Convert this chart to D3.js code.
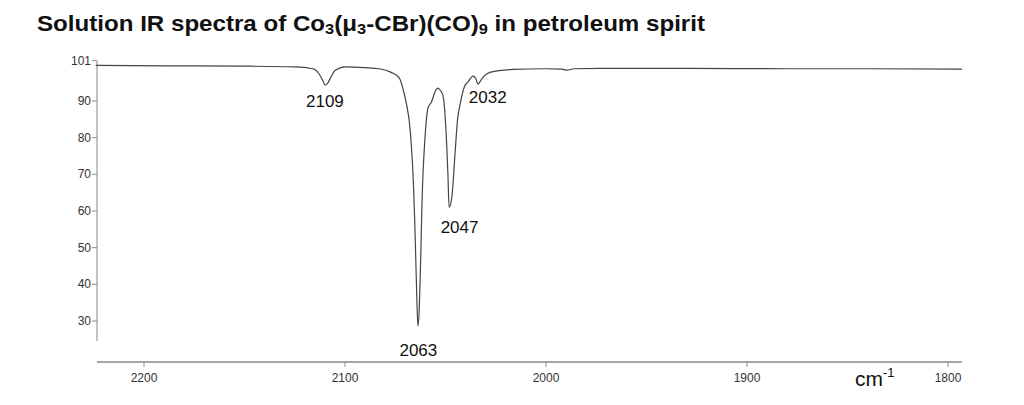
<!DOCTYPE html><html><head><script src="https://d3js.org/d3.v7.min.js"></script>
<style>body{margin:0;background:#fff}svg{font-family:Arial,"Liberation Sans",sans-serif}</style></head><body><svg width="1024" height="405"></svg>
<script>
const wavenumbers=[2224,2190,2150,2125,2116,2113,2111,2110,2109,2107,2105,2100,2090,2083,2077,2073,2071,2069,2068,2067,2066,2065.3,2064.7,2064.2,2063.7,2063,2062.3,2061.7,2060.2,2058.7,2057,2055.2,2053.8,2052.7,2051.3,2050.2,2049.4,2048.8,2048.2,2046.8,2045.3,2044,2042.8,2040.5,2038.8,2036.3,2035,2033.8,2032.6,2031.3,2027.9,2016.4,2000,1992,1989.6,1986,1973,1930,1880,1840,1793];
const transmittance=[99.7,99.6,99.5,99.3,98.8,97.5,95.5,94.4,94.6,96.5,98.3,99.3,99.1,98.8,97.8,96.3,93,88,84.3,78,68,57.1,45,35,28.6,34,48,62,80,88.1,89.7,92.5,93.5,93,91.6,86,78,70,61,64,75.3,85,88.9,94,95.2,96.8,96.2,94.6,95.5,96.5,97.8,98.6,98.8,98.7,98.4,98.8,98.9,98.9,98.8,98.8,98.7];
const xTicks=[2200,2100,2000,1900,1800];
const yTicks=[101,90,80,70,60,50,40,30];
const peakLabels=["2109","2063","2047","2032"];
const labelWn=[2110,2063.5,2043,2029];
const labelPct=[88.5,20.5,54,89.5];
const svg=d3.select("svg");
const x=d3.scaleLinear().domain([2100,2000]).range([345,546]);
const y=d3.scaleLinear().domain([90,60]).range([101,211]);
svg.append("text").attr("x",37).attr("y",31).attr("font-size",22).attr("font-weight","bold").attr("fill","#111")
 .attr("textLength",668).attr("lengthAdjust","spacingAndGlyphs")
 .html('Solution IR spectra of Co<tspan font-size="15" dy="3">3</tspan><tspan dy="-3">(μ</tspan><tspan font-size="15" dy="3">3</tspan><tspan dy="-3">-CBr)(CO)</tspan><tspan font-size="15" dy="3">9</tspan><tspan dy="-3"> in petroleum spirit</tspan>');
const g=svg.append("g").attr("fill","#333").attr("font-size",12);
svg.append("line").attr("x1",97).attr("x2",97).attr("y1",y(101)).attr("y2",341).attr("stroke","#888");
yTicks.forEach(t=>{svg.append("line").attr("x1",92).attr("x2",97).attr("y1",y(t)).attr("y2",y(t)).attr("stroke","#888");
 g.append("text").attr("x",91).attr("y",y(t)+4).attr("text-anchor","end").text(t);});
svg.append("line").attr("x1",97).attr("x2",962).attr("y1",362).attr("y2",362).attr("stroke","#888").attr("stroke-width",1.5);
xTicks.forEach(t=>{svg.append("line").attr("x1",x(t)).attr("x2",x(t)).attr("y1",362).attr("y2",367).attr("stroke","#888");
 g.append("text").attr("x",x(t)).attr("y",382).attr("text-anchor","middle").text(t);});
svg.append("text").attr("x",855).attr("y",386).attr("font-size",21).attr("fill","#111").html('cm<tspan font-size="13" dy="-9">-1</tspan>');
const line=d3.line().x((d,i)=>x(wavenumbers[i])).y(d=>y(d)).curve(d3.curveMonotoneX);
svg.append("path").attr("d",line(transmittance)).attr("fill","none").attr("stroke","#444").attr("stroke-width",1.2);
peakLabels.forEach((l,i)=>svg.append("text").attr("x",x(labelWn[i])).attr("y",y(labelPct[i])).attr("text-anchor","middle").attr("font-size",17).attr("fill","#111").text(l));
</script></body></html>
